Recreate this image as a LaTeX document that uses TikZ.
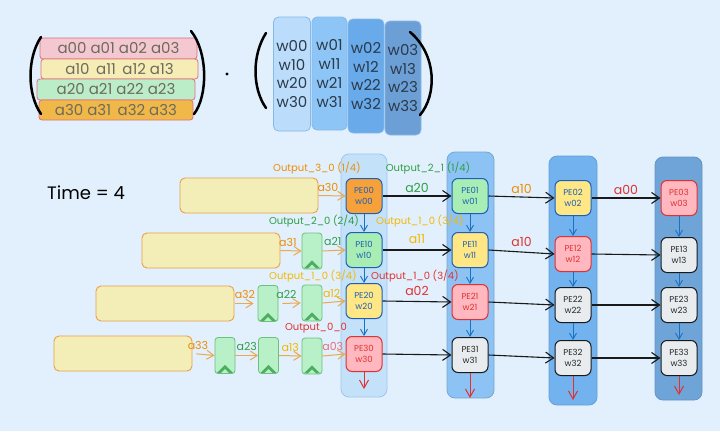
\documentclass[tikz,border=0pt]{standalone}
\usepackage{fontspec}
\setmainfont{Poppins}
\usetikzlibrary{positioning,arrows.meta,calc}

\definecolor{bgblue}{HTML}{E1F0FC}
\definecolor{rowred}{HTML}{E0707A}
\definecolor{rowtxt}{HTML}{6E6A5E}
\definecolor{rowpink}{HTML}{F4C8D0}
\definecolor{rowyel}{HTML}{F5EDB5}
\definecolor{rowgrn}{HTML}{BBEEC8}
\definecolor{roworg}{HTML}{F0B848}
\definecolor{wedge}{HTML}{86B8E8}
\definecolor{wtxt}{HTML}{2B3A4A}
\definecolor{wfill0}{HTML}{BBDDFB}
\definecolor{wfill1}{HTML}{8DC6F6}
\definecolor{wfill2}{HTML}{69AAEA}
\definecolor{wfill3}{HTML}{6C9FD5}
\definecolor{cfill0}{HTML}{C4E1FA}
\definecolor{cfill1}{HTML}{8CC3F4}
\definecolor{cfill2}{HTML}{72B2EF}
\definecolor{cfill3}{HTML}{6FA4D8}
\definecolor{peorange}{HTML}{F7A13B}
\definecolor{pegreen}{HTML}{A8EDB3}
\definecolor{peyellow}{HTML}{FFE785}
\definecolor{pepink}{HTML}{FFB8BF}
\definecolor{pegray}{HTML}{E9ECEF}
\definecolor{peblue}{HTML}{1D5FB8}
\definecolor{outred}{HTML}{E03131}
\definecolor{downblue}{HTML}{1971C2}
\definecolor{qfill}{HTML}{F3EDB7}
\definecolor{qedge}{HTML}{E8A04A}
\definecolor{qarrow}{HTML}{E9A94F}
\definecolor{regfill}{HTML}{B8F0C8}
\definecolor{regedge}{HTML}{6CBF7C}
\definecolor{chevgrn}{HTML}{4CAF60}
\definecolor{txtorange}{HTML}{F08C00}
\definecolor{txtgreen}{HTML}{2F9E44}
\definecolor{txtyellow}{HTML}{F5B800}
\definecolor{txtpink}{HTML}{E8707E}

\begin{document}
\begin{tikzpicture}[
    x=1pt, y=-1pt,
    font=\fontsize{9}{10}\selectfont,
    arow/.style={draw=rowred, line width=0.8pt, rounded corners=3pt,
                 minimum width=157pt, minimum height=21pt, inner sep=0pt,
                 text=rowtxt, font=\fontsize{15}{18}\selectfont},
    wcol/.style={draw=wedge, line width=0.8pt, rounded corners=5pt,
                 minimum width=37pt, minimum height=114pt, inner sep=0pt,
                 align=center, text=wtxt, font=\fontsize{15}{18.7}\selectfont},
    brk/.style={line width=2.5pt, line cap=round},
    colbg/.style={rounded corners=8pt, line width=0.8pt, inner sep=0pt},
    pe/.style={line width=1pt, rounded corners=6pt, minimum width=36pt,
               minimum height=35pt, inner sep=0pt, align=center,
               font=\fontsize{8.5}{10.5}\selectfont},
    peb/.style={pe, draw=peblue, text=peblue},
    per/.style={pe, draw=outred, text=outred},
    pek/.style={pe, draw=black!90, text=black!85},
    queue/.style={draw=qedge, fill=qfill, line width=0.9pt, rounded corners=5pt,
                  minimum width=138pt, minimum height=35pt},
    reg/.style={draw=regedge, fill=regfill, line width=0.8pt, rounded corners=3pt,
                minimum width=20pt, minimum height=36pt},
    feed/.style={-{Straight Barb[length=7pt,width=9pt]}, qarrow, line width=1pt},
    pass/.style={-{Straight Barb[length=8pt,width=11pt]}, black!90, line width=1.1pt},
    down/.style={-{Straight Barb[length=6pt,width=7pt]}, downblue, line width=0.9pt},
    drain/.style={-{Straight Barb[length=8pt,width=9pt]}, outred, line width=1pt},
    tag/.style={font=\fontsize{11}{12}\selectfont, inner sep=1pt, above=3pt},
    midtag/.style={font=\fontsize{12.5}{13}\selectfont, inner sep=1pt, above=2pt},
    outlbl/.style={font=\fontsize{10}{12}\selectfont, inner sep=0pt},
  ]
  \fill[bgblue] (0,0) rectangle (720,431);

  % --- matrix A ---
  \node[arow, fill=rowpink] (arow0) at (118.5,48.5) {a00 a01 a02 a03};
  \node[arow, fill=rowyel, minimum height=20pt] (arow1) at (119.5,69) {a10 \,a11 \,a12 a13};
  \node[arow, fill=rowgrn, minimum width=158pt] (arow2) at (116,89.5) {a20 a21 a22 a23};
  \node[arow, fill=roworg, minimum width=154pt, minimum height=20pt] (arow3) at (116,110) {a30 a31 \,a32 a33};
  \draw[brk] (41,37) .. controls (27,58) and (27,94) .. (41,114);
  \draw[brk] (191,31) .. controls (208,52) and (208,96) .. (194,114);
  \fill (227,74) circle (1.6);

  % --- matrix W (columns) ---
  \node[wcol, fill=wfill0] (wcol0) at (292,74) {w00\\w10\\w20\\w30};
  \node[wcol, fill=wfill1, minimum width=35pt, minimum height=113pt] (wcol1) at (329.5,73.5) {w01\\w11\\w21\\w31};
  \node[wcol, fill=wfill2, minimum width=36pt] (wcol2) at (366,76) {w02\\w12\\w22\\w32};
  \node[wcol, fill=wfill3, minimum width=36pt] (wcol3) at (403,78) {w03\\w13\\w23\\w33};
  \draw[brk] (266,33) .. controls (252,55) and (252,88) .. (266,108);
  \draw[brk] (410,32) .. controls (437,55) and (437,95) .. (420,115);

  \node[font=\fontsize{18}{20}\selectfont] (time) at (86,193) {Time = 4};

  % --- PE columns ---
  \node[colbg, draw=wedge!80, fill=cfill0, minimum width=46pt, minimum height=243pt] (col0) at (364,275.5) {};
  \node[colbg, draw=cfill1!85!black, fill=cfill1, minimum width=47pt, minimum height=246pt] (col1) at (470.5,275) {};
  \node[colbg, draw=cfill2!90!black, fill=cfill2, minimum width=48pt, minimum height=249pt] (col2) at (573,280.5) {};
  \node[colbg, draw=cfill3!90!black, fill=cfill3, minimum width=47pt, minimum height=243pt] (col3) at (678.5,278.5) {};

  \node[peb, fill=peorange] (pe00) at (364,196) {PE00\\w00};
  \node[peb, fill=pegreen]  (pe10) at (364,250) {PE10\\w10};
  \node[peb, fill=peyellow] (pe20) at (364,301) {PE20\\w20};
  \node[per, fill=pepink]   (pe30) at (364,354) {PE30\\w30};

  \node[peb, fill=pegreen]  (pe01) at (470,196) {PE01\\w01};
  \node[peb, fill=peyellow] (pe11) at (470,250) {PE11\\w11};
  \node[per, fill=pepink]   (pe21) at (470,302) {PE21\\w21};
  \node[pek, fill=pegray]   (pe31) at (470,355) {PE31\\w31};

  \node[peb, fill=peyellow] (pe02) at (573,198) {PE02\\w02};
  \node[per, fill=pepink]   (pe12) at (573,254) {PE12\\w12};
  \node[pek, fill=pegray]   (pe22) at (573,305) {PE22\\w22};
  \node[pek, fill=pegray]   (pe32) at (573,358) {PE32\\w32};

  \node[per, fill=pepink]   (pe03) at (679,198) {PE03\\w03};
  \node[pek, fill=pegray]   (pe13) at (679,255) {PE13\\w13};
  \node[pek, fill=pegray]   (pe23) at (679,305) {PE23\\w23};
  \node[pek, fill=pegray]   (pe33) at (679,358) {PE33\\w33};

  % downward partial sums
  \foreach \c in {0,1,2,3}
    \foreach \r/\s in {0/1,1/2,2/3}
      \draw[down] (pe\r\c.south) -- (pe\s\c.north);

  \path (pe30.south) ++(0,17) coordinate (end0);
  \path (pe31.south) ++(0,25) coordinate (end1);
  \path (pe32.south) ++(0,24) coordinate (end2);
  \path (pe33.south) ++(0,19) coordinate (end3);
  \foreach \c in {0,1,2,3}
    \draw[drain] (pe3\c.south) -- (end\c);

  % activations passed to the right
  \draw[pass] (pe00.east) -- node[midtag, text=txtgreen] {a20} (pe01.west);
  \draw[pass] (pe01.east) -- node[midtag, text=txtorange] {a10} (pe02.west);
  \draw[pass] (pe02.east) -- node[midtag, text=outred] {a00} (pe03.west);
  \draw[pass] (pe10.east) -- node[midtag, text=txtyellow, above=5pt] {a11} (pe11.west);
  \draw[pass] (pe11.east) -- node[midtag, text=outred, above=4pt] {a10} (pe12.west);
  \draw[pass] (pe20.east) -- node[midtag, text=outred, above=4pt] {a02} (pe21.west);
  \foreach \r/\c/\d in {1/2/3,2/1/2,2/2/3,3/0/1,3/1/2,3/2/3}
    \draw[pass] (pe\r\c.east) -- (pe\r\d.west);

  % --- input queues ---
  \node[queue] (q0) at (249,195.5) {};
  \node[queue] (q1) at (211,250.5) {};
  \node[queue] (q2) at (165,303.5) {};
  \node[queue] (q3) at (123,353.5) {};

  \node[reg] (reg10) at (312,251) {};
  \node[reg] (reg20) at (268,303.5) {};
  \node[reg] (reg21) at (312,303) {};
  \node[reg] (reg30) at (225,355.5) {};
  \node[reg] (reg31) at (268.5,355.5) {};
  \node[reg] (reg32) at (312,356) {};
  \foreach \g in {reg10,reg20,reg21,reg30,reg31,reg32}
    \fill[chevgrn] ($(\g.south)+(-8,-1)$) -- ($(\g.south)+(0,-9)$)
      -- ($(\g.south)+(8,-1)$) -- ($(\g.south)+(4,-1)$)
      -- ($(\g.south)+(0,-5)$) -- ($(\g.south)+(-4,-1)$) -- cycle;

  \draw[feed] (q0.east) -- node[tag, pos=0.35, text=txtorange] {a30} (pe00.west);
  \draw[feed] (q1.east) -- node[tag, pos=0.35, text=txtorange] {a31} (reg10.west);
  \draw[feed] (reg10.east) -- node[tag, pos=0.45, text=txtgreen] {a21} (pe10.west);
  \draw[feed, shorten <=1pt, shorten >=4pt] (q2.east) -- node[tag, pos=0.45, text=txtorange] {a32} (reg20.west);
  \draw[feed, shorten <=4pt, shorten >=1pt] (reg20.east) -- node[tag, pos=0.35, text=txtgreen] {a22} (reg21.west);
  \draw[feed] (reg21.east) -- node[tag, pos=0.4, text=txtyellow] {a12} (pe20.west);
  \draw[feed, shorten <=4pt] (q3.east) -- node[tag, pos=0.25, text=txtorange] {a33} (reg30.west);
  \draw[feed] (reg30.east) -- node[tag, pos=0.5, text=txtgreen] {a23} (reg31.west);
  \draw[feed] (reg31.east) -- node[tag, pos=0.5, text=txtyellow] {a13} (reg32.west);
  \draw[feed] (reg32.east) -- node[tag, pos=0.45, text=txtpink] {a03} (pe30.west);

  % --- output labels ---
  \node[outlbl, text=txtorange] (out30) at (317,168) {Output\_3\_0 (1/4)};
  \node[outlbl, text=txtgreen] (out21) at (428,168) {Output\_2\_1 (1/4)};
  \node[outlbl, text=txtgreen] (out20) at (314,221) {Output\_2\_0 (2/4)};
  \node[outlbl, text=txtyellow] (out10a) at (420,221) {Output\_1\_0 (3/4)};
  \node[outlbl, text=txtyellow] (out10b) at (313,276) {Output\_1\_0 (3/4)};
  \node[outlbl, text=outred] (out10c) at (415,276) {Output\_1\_0 (3/4)};
  \node[outlbl, text=outred] (out00) at (316,328) {Output\_0\_0};
\end{tikzpicture}
\end{document}
